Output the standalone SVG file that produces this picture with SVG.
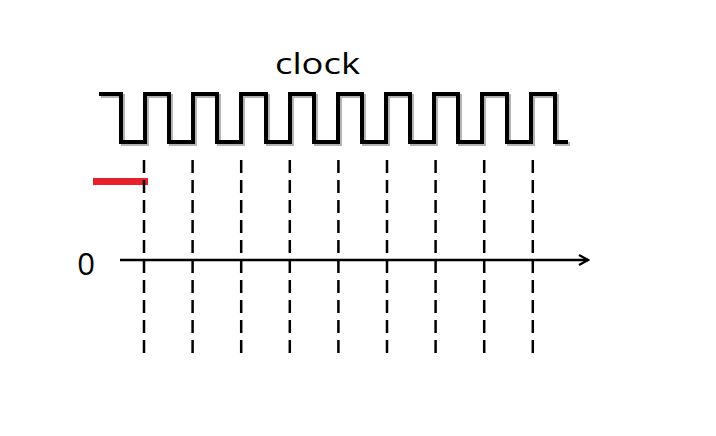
<svg xmlns="http://www.w3.org/2000/svg" width="716" height="436" viewBox="0 0 716 436">
<defs>
<style>
.wave{fill:none;stroke:#000;stroke-width:4;stroke-linejoin:miter;stroke-linecap:butt}
.shadow{fill:none;stroke:#a0a0a0;stroke-width:4;stroke-linejoin:miter;opacity:0.8}
.dash{stroke:#000;stroke-width:2.5;stroke-dasharray:13 7;fill:none}
.axis{stroke:#000;stroke-width:2.5;fill:none}
.lbl{font-family:"Open Sans","Liberation Sans",sans-serif;fill:#000}
</style>
<marker id="arrow" viewBox="0 0 12 12" refX="10" refY="6" markerWidth="12" markerHeight="12" markerUnits="userSpaceOnUse" orient="auto">
<path d="M1,1 L10,6 L1,11" fill="none" stroke="#000" stroke-width="2.2"/>
</marker>
</defs>
<rect width="716" height="436" fill="#fff"/>
<g id="clock">
<path class="shadow" transform="translate(2,2)" d="M99,94 H121 V142 H145 V94 H169 V142 H193 V94 H217 V142 H241 V94 H266 V142 H290 V94 H314 V142 H338 V94 H362 V142 H386 V94 H410 V142 H434 V94 H458 V142 H482 V94 H507 V142 H531 V94 H555 V142 H568"/>
<path class="wave" d="M99,94 H121 V142 H145 V94 H169 V142 H193 V94 H217 V142 H241 V94 H266 V142 H290 V94 H314 V142 H338 V94 H362 V142 H386 V94 H410 V142 H434 V94 H458 V142 H482 V94 H507 V142 H531 V94 H555 V142 H568"/>
<text class="lbl" x="275" y="74" font-size="30" textLength="85" lengthAdjust="spacingAndGlyphs">clock</text>
</g>
<g id="marker-red">
<line x1="93" y1="181.5" x2="148" y2="181.5" stroke="#e8202a" stroke-width="7"/>
</g>
<g id="zero">
<text class="lbl" x="86" y="275" font-size="31" text-anchor="middle">0</text>
</g>
<g id="connectors">
<line class="axis" x1="120" y1="260" x2="588" y2="260" marker-end="url(#arrow)"/>
<line class="dash" x1="144" y1="160" x2="144" y2="356"/>
<line class="dash" x1="192.6" y1="160" x2="192.6" y2="356"/>
<line class="dash" x1="241.2" y1="160" x2="241.2" y2="356"/>
<line class="dash" x1="289.8" y1="160" x2="289.8" y2="356"/>
<line class="dash" x1="338.4" y1="160" x2="338.4" y2="356"/>
<line class="dash" x1="387" y1="160" x2="387" y2="356"/>
<line class="dash" x1="435.6" y1="160" x2="435.6" y2="356"/>
<line class="dash" x1="484.2" y1="160" x2="484.2" y2="356"/>
<line class="dash" x1="532.8" y1="160" x2="532.8" y2="356"/>
</g>
</svg>
